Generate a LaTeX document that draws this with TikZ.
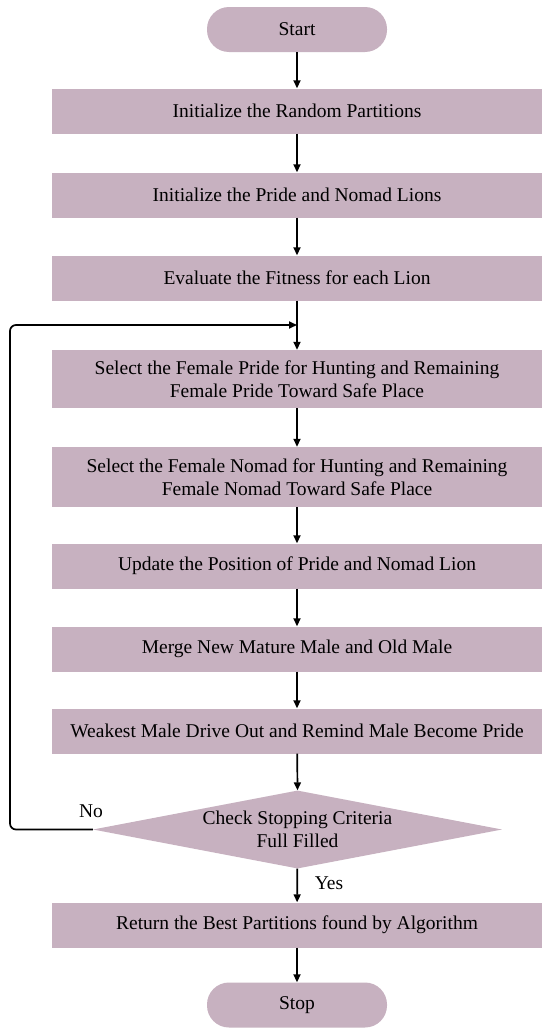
\documentclass[tikz,border=0pt]{standalone}
\usepackage{fontspec}
\setmainfont{Liberation Serif}
\usetikzlibrary{shapes.geometric,arrows.meta}
\definecolor{mauve}{RGB}{199,177,192}
\tikzset{
  procbox/.style={rectangle, fill=mauve, minimum width=490pt, minimum height=45pt, inner sep=0pt, align=center, font=\fontsize{19.5}{23.5}\selectfont},
  termbox/.style={rectangle, fill=mauve, rounded corners=22pt, minimum width=180pt, minimum height=45pt, inner sep=0pt, font=\fontsize{19.5}{23.5}\selectfont},
  decision/.style={diamond, fill=mauve, minimum width=409pt, minimum height=78pt, inner sep=0pt},
  arr/.style={-{Triangle[width=7pt,length=8pt]}, line width=1.7pt},
  lbl/.style={font=\fontsize{19.5}{23.5}\selectfont}
}
\begin{document}
\begin{tikzpicture}[x=1pt,y=-1pt]
\useasboundingbox (0,0) rectangle (550,1036);
\fill[white] (0,0) rectangle (550,1036);
\node[termbox] (start) at (297,29.5) {Start};
\node[procbox] (b1) at (297,111) {Initialize the Random Partitions};
\node[procbox] (b2) at (297,195) {Initialize the Pride and Nomad Lions};
\node[procbox] (b3) at (297,278) {Evaluate the Fitness for each Lion};
\coordinate (loop) at (297,325);
\node[procbox, minimum height=58pt] (b4) at (297,379) {Select the Female Pride for Hunting and Remaining\\Female Pride Toward Safe Place};
\node[procbox, minimum height=60pt] (b5) at (297,477) {Select the Female Nomad for Hunting and Remaining\\Female Nomad Toward Safe Place};
\node[procbox] (b6) at (297,566) {Update the Position of Pride and Nomad Lion};
\node[procbox] (b7) at (297,649) {Merge New Mature Male and Old Male};
\node[procbox] (b8) at (297,731) {Weakest Male Drive Out and Remind Male Become Pride};
\node[decision, label={[align=center, font=\fontsize{19.5}{23.5}\selectfont]center:Check Stopping Criteria\\Full Filled}] (dec) at (297.5,829.5) {};
\node[procbox] (b9) at (297,925) {Return the Best Partitions found by Algorithm};
\node[termbox] (stop) at (297,1005) {Stop};
\coordinate (lc1) at (10,829.5);
\coordinate (lc2) at (10,325);
\draw[arr] (start) -- (b1);
\draw[arr] (b1) -- (b2);
\draw[arr] (b2) -- (b3);
\draw[arr] (b3) -- (b4);
\draw[arr] (b4) -- (b5);
\draw[arr] (b5) -- (b6);
\draw[arr] (b6) -- (b7);
\draw[arr] (b7) -- (b8);
\draw[arr] (b8) -- (dec.north);
\draw[arr] (dec) -- (b9);
\draw[arr] (b9) -- (stop);
\draw[arr, rounded corners=6pt] (dec.west) -- (lc1) -- (lc2) -- (loop);
\node[lbl] (no) at (91,811) {No};
\node[lbl] (yes) at (329,883) {Yes};
\end{tikzpicture}
\end{document}
